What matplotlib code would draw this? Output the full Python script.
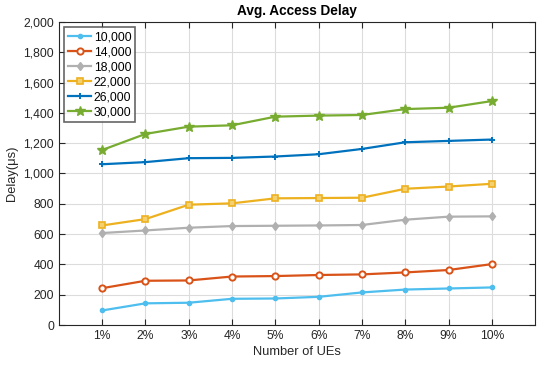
import matplotlib
matplotlib.use("Agg")
import matplotlib.pyplot as plt
from matplotlib.ticker import FuncFormatter

plt.rcParams['font.family'] = ['Liberation Sans', 'DejaVu Sans']

x_labels = ["1%", "2%", "3%", "4%", "5%", "6%", "7%", "8%", "9%", "10%"]
series_names = ["10,000", "14,000", "18,000", "22,000", "26,000", "30,000"]
s10000 = [96, 143, 147, 173, 175, 186, 215, 234, 241, 248]
s14000 = [243, 292, 294, 320, 323, 330, 334, 347, 363, 402]
s18000 = [607, 624, 642, 653, 655, 657, 660, 695, 715, 717]
s22000 = [657, 699, 794, 803, 836, 838, 840, 899, 914, 932]
s26000 = [1061, 1075, 1101, 1103, 1112, 1127, 1162, 1206, 1215, 1224]
s30000 = [1155, 1261, 1309, 1318, 1375, 1382, 1386, 1425, 1434, 1478]

colors = ["#4DBEEE", "#D95319", "#B0B0B0", "#EDB120", "#0072BD", "#77AC30"]
markers = [".", "o", "d", "s", "+", "*"]

fig = plt.figure(figsize=(5.5, 3.66), dpi=100)
ax = fig.add_axes([0.107, 0.112, 0.866, 0.828])

xs = list(range(1, len(x_labels) + 1))
all_series = [s10000, s14000, s18000, s22000, s26000, s30000]
for name, ys, c, m in zip(series_names, all_series, colors, markers):
    kw = dict(color=c, marker=m, linewidth=1.6, label=name)
    if m == "o":
        kw.update(markersize=4.5, markerfacecolor="white", markeredgewidth=1.4)
    elif m == "s":
        kw.update(markersize=4.5, markerfacecolor="#F5D070", markeredgewidth=1.2)
    elif m == ".":
        kw.update(markersize=6)
    elif m == "d":
        kw.update(markersize=4.5)
    elif m == "+":
        kw.update(markersize=4.5, markeredgewidth=1.4)
    elif m == "*":
        kw.update(markersize=7)
    ax.plot(xs, ys, **kw)

ax.set_xlim(0, 11)
ax.set_ylim(0, 2000)
ax.set_xticks(xs)
ax.set_xticklabels(x_labels)
ax.set_yticks(range(0, 2001, 200))
ax.yaxis.set_major_formatter(FuncFormatter(lambda v, p: f"{int(v):,}"))
ax.grid(True, color="#DCDCDC", linewidth=0.8)
ax.set_axisbelow(True)
ax.tick_params(direction="in", top=True, right=True, labelsize=8.7, colors="#262626", length=4)
for s in ax.spines.values():
    s.set_color("#262626")
    s.set_linewidth(0.8)
ax.set_xlabel("Number of UEs", fontsize=9.3, color="#262626", labelpad=3)
ax.set_ylabel("Delay(\u03bcs)", fontsize=9.3, color="#262626", labelpad=4)
ax.set_title("Avg. Access Delay", fontsize=9.8, fontweight="bold", pad=5)

leg = ax.legend(loc="upper left", fontsize=8.8, frameon=True, fancybox=False,
                edgecolor="#404040", borderpad=0.3, labelspacing=0.25,
                handlelength=1.9, handletextpad=0.2, borderaxespad=0.45)
leg.get_frame().set_linewidth(1.2)

fig.savefig("out.png", dpi=100)
